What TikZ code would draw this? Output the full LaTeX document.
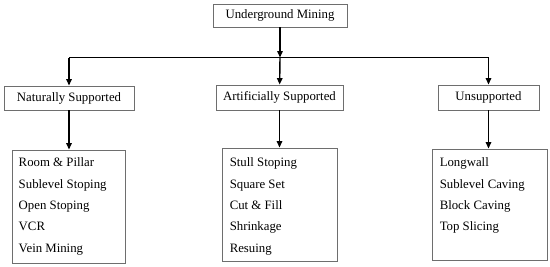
\documentclass[tikz,border=0pt]{standalone}
\usepackage{fontspec}
\setmainfont{Liberation Serif}
\usepackage{tikz}
\usetikzlibrary{arrows.meta, positioning, calc}
\definecolor{boxgray}{RGB}{110, 110, 110}

\begin{document}
\begin{tikzpicture}[
    x=1pt, y=-1pt,
    every node/.style={font=\fontsize{12.8}{21.4}\selectfont, inner sep=0pt},
    headbox/.style={draw=boxgray, line width=0.9pt, fill=white},
    listbox/.style={draw=boxgray, line width=0.9pt, fill=white},
    items/.style={anchor=north west, align=left},
    arr/.style={-{Triangle[length=6.5pt, width=5.5pt]}, line width=1.4pt, color=black},
    busline/.style={line width=1.4pt, color=black}
]
\useasboundingbox (0,0) rectangle (550,266);

% Level 1
\node[headbox, minimum width=134pt, minimum height=23pt] (mining) at (280,15.5) {Underground Mining};
\coordinate (bus) at (280,57.5);

% Level 2: support classes
\node[headbox, minimum width=130pt, minimum height=24pt] (natural) at (69,98) {Naturally Supported};
\node[headbox, minimum width=127pt, minimum height=25pt] (artificial) at (279.5,97.5) {Artificially Supported};
\node[headbox, minimum width=101pt, minimum height=25pt] (unsupported) at (488.5,97.5) {Unsupported};

% Level 3: methods
\node[listbox, minimum width=113pt, minimum height=113pt] (natlist) at (68.5,206.5) {};
\node[listbox, minimum width=115pt, minimum height=113pt] (artlist) at (279.5,204.5) {};
\node[listbox, minimum width=115pt, minimum height=111pt] (unslist) at (489.5,204.5) {};

\node[items] (natitems) at ($(natlist.north west)+(7,8)$) {Room \& Pillar\\Sublevel Stoping\\Open Stoping\\VCR\\Vein Mining};
\node[items] (artitems) at ($(artlist.north west)+(8,10)$) {Stull Stoping\\Square Set\\Cut \& Fill\\Shrinkage\\Resuing};
\node[items] (unsitems) at ($(unslist.north west)+(8,9)$) {Longwall\\Sublevel Caving\\Block Caving\\Top Slicing};

% Level 1 to Level 2
\draw[arr] (mining) -- (bus);
\draw[busline] (bus -| natural) -- (bus -| unsupported);
\draw[arr] (bus -| natural) -- (natural);
\draw[arr] (bus) -- (artificial);
\draw[arr] (bus -| unsupported) -- (unsupported);

% Level 2 to Level 3
\draw[arr] (natural.south) -- (natural.south |- natlist.north);
\draw[arr] (artificial.south) -- (artificial.south |- artlist.north);
\draw[arr] (unsupported.south) -- (unsupported.south |- unslist.north);

\end{tikzpicture}
\end{document}
